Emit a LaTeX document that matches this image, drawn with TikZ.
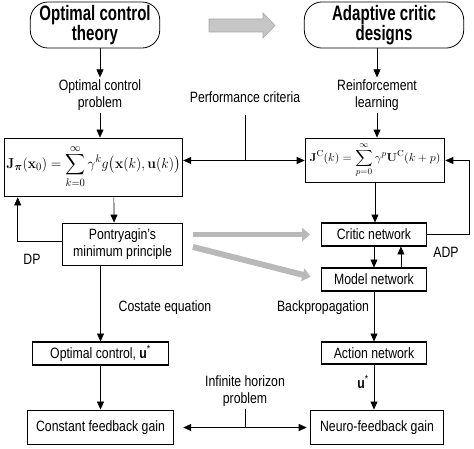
\documentclass[tikz,border=0pt]{standalone}
\usepackage{amsmath}
\usepackage{graphicx}
\usepackage[no-math]{fontspec}
\setmainfont[FakeStretch=0.82]{Liberation Sans}
\newfontfamily\headfont[FakeStretch=0.72]{Liberation Sans}
\usepackage{xcolor}
\usepackage{tikz}
\usetikzlibrary{positioning,arrows.meta}

% sum with its limits pulled in
\newcommand{\tightsum}[2]{\sum_{\raisebox{2.5pt}{$\scriptstyle #1$}}^{\raisebox{-2.5pt}{$\scriptstyle #2$}}}

\begin{document}
\begin{tikzpicture}[x=1bp, y=-1bp,
    every node/.style={font=\fontsize{15}{17}\selectfont},
    box/.style={draw, line width=1.1pt, inner sep=2pt, align=center},
    mathbox/.style={box, inner sep=0pt},
    title/.style={draw, line width=0.8pt, rounded corners=18, align=center,
        font=\headfont\bfseries\fontsize{21}{20}\selectfont},
    lbl/.style={align=center, inner sep=2pt},
    arr/.style={-{Triangle[length=8pt,width=7pt]}, line width=0.6pt},
    arr2/.style={{Triangle[length=8pt,width=7pt]}-{Triangle[length=8pt,width=7pt]}, line width=0.6pt},
    fat/.style={-{Triangle[length=8pt,width=13pt]}, line width=6pt, draw=gray!55}]
\useasboundingbox (0,0) rectangle (474,449);

\node[title, minimum width=130, minimum height=46] (theory) at (95,25) {Optimal control\\theory};
\node[title, minimum width=160, minimum height=46] (acd) at (384,25) {Adaptive critic\\designs};
% shaded arrow between the two headings
\filldraw[fill=gray!45, draw=gray!70, line width=0.6pt]
    (209,19) -- (263,19) -- (263,13) -- (275,25.5) -- (263,38) -- (263,32) -- (209,32) -- cycle;

\node[lbl] (ocp) at (100,95) {Optimal control\\problem};
\node[lbl] (perf) at (245,97) {Performance criteria};
\node[lbl] (rl) at (377,95) {Reinforcement\\learning};

\node[mathbox, minimum width=179, minimum height=59] (Jpi) at (93.5,167.5)
    {\resizebox*{174bp}{45bp}{$\displaystyle \mathbf{J}_{\boldsymbol{\pi}}(\mathbf{x}_0)=\tightsum{k=0}{\infty}\gamma^k g\bigl(\mathbf{x}(k),\mathbf{u}(k)\bigr)$}};
\node[mathbox, minimum width=140, minimum height=45] (JC) at (375,160.5)
    {\resizebox*{131bp}{35bp}{$\displaystyle \mathbf{J}^{\mathrm{C}}(k)=\tightsum{p=0}{\infty}\gamma^{p}\mathbf{U}^{\mathrm{C}}(k+p)$}};

\node[box, minimum width=121, minimum height=43] (pont) at (122.5,244.5) {Pontryagin's\\minimum principle};
\node[box, minimum width=105, minimum height=23] (critic) at (374,234.5) {Critic network};
\node[box, minimum width=105, minimum height=23] (model) at (374,279.5) {Model network};
\node[box, minimum width=105, minimum height=22] (action) at (374,353) {Action network};
\node[box, minimum width=137, minimum height=23] (optu) at (100.5,353.5) {Optimal control, {\bfseries u}\textsuperscript{*}};
\node[box, minimum width=147, minimum height=35] (constant) at (100.5,427.5) {Constant feedback gain};
\node[box, minimum width=134, minimum height=35] (neuro) at (377,427.5) {Neuro-feedback gain};

\node[lbl] (dp) at (32,259) {DP};
\node[lbl] (adp) at (446,252) {ADP};
\node[lbl] (costate) at (165,308) {Costate equation};
\node[lbl] (backprop) at (323,308) {Backpropagation};
\node[lbl] (ustar) at (363,382) {{\bfseries u}\textsuperscript{*}};
\node[lbl] (inf) at (245,391) {Infinite horizon\\problem};

% left column
\draw[arr] (ocp.north |- theory.south) -- (ocp.north);
\draw[arr] (ocp.south) -- (ocp.south |- Jpi.north);
\draw[arr] ([xshift=20.5pt]Jpi.south) -- ([xshift=-8.5pt]pont.north);
\draw[arr] ([yshift=3pt]pont.west) -| ([xshift=14pt]Jpi.south west);
\draw[arr] (optu.north |- pont.south) -- (optu.north);
\draw[arr] (optu) -- (constant);

% right column
\draw[arr] (rl.north |- acd.south) -- (rl.north);
\draw[arr] (rl.south) -- (rl.south |- JC.north);
\draw[arr] (JC.south) -- (JC.south |- critic.north);
\draw[arr] (critic) -- (model);
\draw[arr] ([xshift=27pt]model.north) -- ([xshift=27pt]critic.south);
\draw[arr] (critic.east) -- ++(42,0) |- (JC.east);
\draw[arr] (model) -- (action);
\draw[arr] (action.south) -- (action.south |- neuro.north);

% across
\draw[arr2] (Jpi.east |- JC.west) -- (JC.west);
\draw[line width=0.6pt, shorten <=10pt] (perf.south) -- (perf.south |- JC.west);
\draw[arr2, shorten <=9pt, shorten >=3pt] (constant.east) -- (neuro.west);
\draw[line width=0.6pt] (inf.south) -- (inf.south |- neuro.west);
\draw[fat, shorten <=10pt, shorten >=11pt] (pont.east |- critic.west) -- (critic.west);
\draw[fat, shorten <=10pt, shorten >=11pt] (pont.east) -- (model.west);

\end{tikzpicture}
\end{document}
